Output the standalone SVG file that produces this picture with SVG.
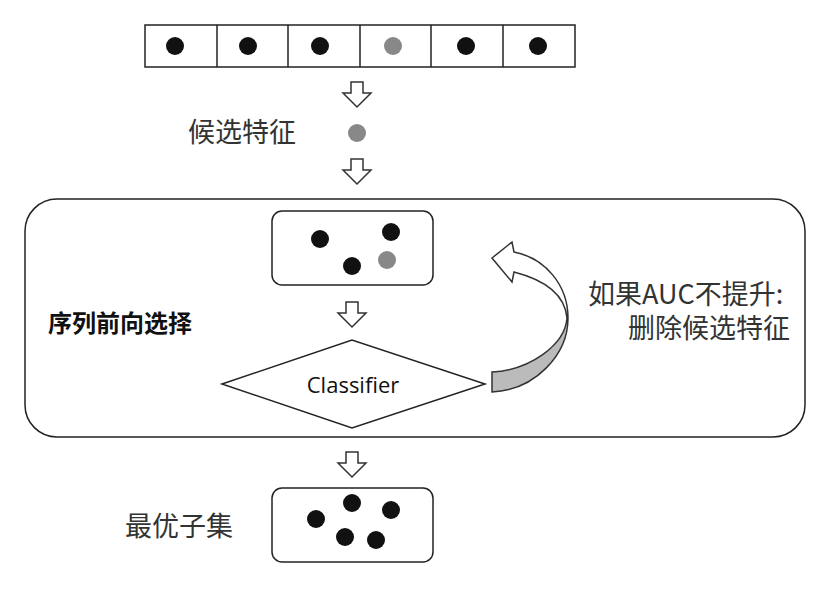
<svg xmlns="http://www.w3.org/2000/svg" width="836" height="594" viewBox="0 0 836 594">
<style>
.b{fill:#fff;stroke:#222;stroke-width:1.5}
.d{fill:#111}
.g{fill:#888}
.t{font-family:"Noto Sans CJK SC","Noto Sans",sans-serif;fill:#333;font-size:27px}
</style>
<defs>
<path id="da" d="M-6,-13 h12 v11 h8 l-14,14 l-14,-14 h8 z" fill="#fff" stroke="#333" stroke-width="1.5"/>
</defs>
<rect width="836" height="594" fill="#fff"/>
<g id="strip">
<rect class="b" x="145" y="25" width="430" height="42"/>
<path d="M217,25v42M288,25v42M360,25v42M431,25v42M503,25v42" stroke="#222" stroke-width="1.5"/>
<circle class="d" cx="175" cy="46" r="9"/><circle class="d" cx="248" cy="46" r="9"/><circle class="d" cx="320" cy="46" r="9"/>
<circle class="g" cx="393" cy="46" r="9"/><circle class="d" cx="466" cy="46" r="9"/><circle class="d" cx="538" cy="46" r="9"/>
</g>
<g id="candidate">
<text class="t" x="188" y="142">候选特征</text>
<circle class="g" cx="357" cy="133" r="9"/>
</g>
<g id="sfs">
<rect class="b" x="25" y="199" width="780" height="238" rx="32"/>
<text x="48" y="332" font-family="Noto Sans CJK SC,sans-serif" font-weight="bold" font-size="24" fill="#111">序列前向选择</text>
</g>
<g id="subset">
<rect class="b" x="272" y="211" width="161" height="74" rx="10"/>
<circle class="d" cx="320" cy="239" r="9"/><circle class="d" cx="391" cy="232" r="9"/>
<circle class="d" cx="352" cy="266" r="9"/><circle class="g" cx="387" cy="260" r="9"/>
</g>
<g id="classifier">
<polygon class="b" points="222,384 352,340 485,384 352,428"/>
<text x="353" y="393" text-anchor="middle" font-family="Open Sans,sans-serif" font-size="22" fill="#111">Classifier</text>
</g>
<g id="note">
<text class="t" x="588" y="304" font-size="25">如果AUC不提升:</text>
<text class="t" x="790" y="338" text-anchor="end" font-size="25">删除候选特征</text>
</g>
<g id="best">
<text class="t" x="125" y="536">最优子集</text>
<rect class="b" x="272" y="488" width="161" height="74" rx="10"/>
<circle class="d" cx="316" cy="519" r="9"/><circle class="d" cx="352" cy="503" r="9"/><circle class="d" cx="391" cy="510" r="9"/>
<circle class="d" cx="345" cy="537" r="9"/><circle class="d" cx="376" cy="540" r="9"/>
</g>
<g id="connectors">
<use href="#da" x="357" y="95"/>
<use href="#da" x="357" y="172"/>
<use href="#da" x="352" y="315"/>
<use href="#da" x="352" y="465"/>
<path d="M492,372 C530,370 565,345 567,318 C568,355 535,390 492,392 Z" fill="#bbb"/>
<path d="M492,258 L512,242 L514,252 C545,258 568,285 568,318 C568,355 535,390 492,392 L492,372 C530,370 565,345 567,318 C565,295 545,280 514,272 L512,282 Z" fill="none" stroke="#333" stroke-width="1.5"/>
</g>
</svg>
